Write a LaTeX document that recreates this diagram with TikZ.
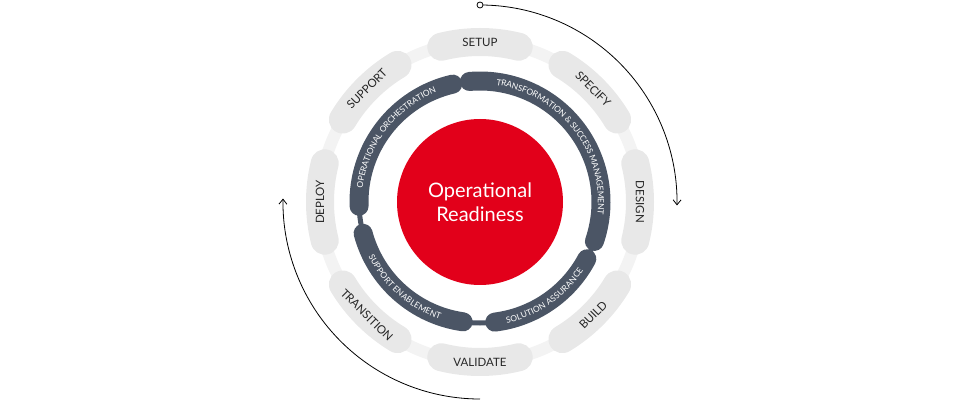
\documentclass[tikz,border=0pt]{standalone}
\usepackage{fontspec}
\setmainfont{Lato}
\usetikzlibrary{decorations.text,arrows.meta}
\definecolor{ringdark}{HTML}{4B5565}
\definecolor{ored}{HTML}{E2001A}
\definecolor{pill}{HTML}{E8E8E8}
\definecolor{track}{HTML}{F3F3F3}
\newcommand{\innerfont}{\fontsize{8.4pt}{9pt}\selectfont}
\tikzset{
  pillarc/.style={draw=pill,line width=28pt,line cap=round},
  darkarc/.style={draw=ringdark,line width=19pt,line cap=round},
  outerlabel/.style={font=\fontsize{11.5pt}{12pt}\selectfont,text=black!85},
  flow/.style={draw=black,line width=0.8pt},
}
\begin{document}
\begin{tikzpicture}[x=1pt,y=1pt]
\useasboundingbox (-480,-199) rectangle (480,202);
\draw[track,line width=12pt] (0,0) circle (160);
\foreach \a/\t/\r/\n in {90/SETUP/0/setup,45/SPECIFY/-45/specify,0/DESIGN/-90/design,-45/BUILD/45/build,-90/VALIDATE/0/validate,-135/TRANSITION/-45/transition,180/DEPLOY/90/deploy,135/SUPPORT/45/support}{
  \draw[pillarc] ({\a+14}:160) arc[start angle={\a+14},end angle={\a-14},radius=160];
  \node[outerlabel,rotate=\r] (\n) at (\a:160) {\t};
}
\draw[ringdark,line width=5pt] (0,0) circle (121);
\draw[darkarc] (182:121) arc[start angle=182,end angle=103,radius=121];
\draw[darkarc] (95:121) arc[start angle=95,end angle=-19,radius=121];
\draw[darkarc] (-28:121) arc[start angle=-28,end angle=-83,radius=121];
\draw[darkarc] (-98:121) arc[start angle=-98,end angle=-165,radius=121];
\path[decorate,decoration={text along path,text align=center,raise=-3pt,text color=white,
  text={|\innerfont|OPERATIONAL ORCHESTRATION}}]
  (182:121) arc[start angle=182,end angle=103,radius=121];
\path[decorate,decoration={text along path,text align=center,raise=-3pt,text color=white,
  text={|\innerfont|TRANSFORMATION {\&} SUCCESS MANAGEMENT}}]
  (95:121) arc[start angle=95,end angle=-19,radius=121];
\path[decorate,decoration={text along path,text align=center,raise=-3pt,text color=white,
  text={|\innerfont|SOLUTION ASSURANCE}}]
  (-83:121) arc[start angle=-83,end angle=-28,radius=121];
\path[decorate,decoration={text along path,text align=center,raise=-3pt,text color=white,
  text={|\innerfont|SUPPORT ENABLEMENT}}]
  (-165:121) arc[start angle=-165,end angle=-98,radius=121];
\node[circle,fill=ored,minimum size=166pt,inner sep=0pt,text=white,align=center,
  font=\fontsize{20pt}{24pt}\selectfont] (core) at (0,0) {Operational\\Readiness};
\coordinate (s1) at (90:197);
\coordinate (s2) at (-90:197);
\draw[flow,-{Straight Barb[length=5pt,width=8pt]}] (s1) arc[start angle=90,end angle=-1,radius=197];
\draw[black,fill=white,line width=0.8pt] (s1) circle (3);
\draw[flow,-{Straight Barb[length=5pt,width=8pt]}] (s2) arc[start angle=-90,end angle=-181,radius=197];
\end{tikzpicture}
\end{document}
